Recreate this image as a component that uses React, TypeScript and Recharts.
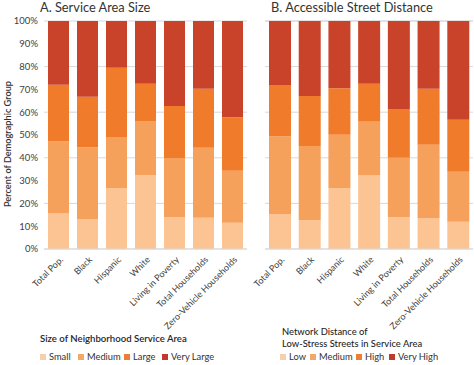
import React from 'react';
import { BarChart, Bar, XAxis, YAxis, CartesianGrid } from 'recharts';

const categories = ['Total Pop.', 'Black', 'Hispanic', 'White', 'Living in Poverty', 'Total Households', 'Zero-Vehicle Households'];

// A. Service Area Size (percent of each group)
const sizeSmall = [15.6, 13.2, 26.8, 32.3, 13.9, 13.7, 11.5];
const sizeMedium = [31.6, 31.4, 22.3, 23.7, 26.0, 30.7, 22.8];
const sizeLarge = [24.8, 22.2, 30.4, 16.5, 22.8, 25.9, 23.5];
const sizeVeryLarge = [28.0, 33.2, 20.5, 27.5, 37.3, 29.7, 42.2];

// B. Accessible Street Distance
const distLow = [15.4, 12.7, 26.8, 32.2, 13.9, 13.5, 12.0];
const distMedium = [33.9, 32.5, 23.3, 23.9, 26.1, 32.2, 21.9];
const distHigh = [22.6, 21.9, 20.4, 16.4, 21.4, 24.6, 22.8];
const distVeryHigh = [28.1, 32.9, 29.5, 27.5, 38.6, 29.7, 43.3];

const yTicks = [0, 10, 20, 30, 40, 50, 60, 70, 80, 90, 100];

const sizeLabels = ['Small', 'Medium', 'Large', 'Very Large'];
const distLabels = ['Low', 'Medium', 'High', 'Very High'];
const colors = ['#FDC493', '#F6A15B', '#F07C2B', '#C9432A'];
const legendColors = ['#F6CFAE', '#F2A867', '#EE7E35', '#C0392B'];

const FONT = 'Lato, "Open Sans", sans-serif';

const sizeData = categories.map((name, i) => ({
  name,
  s0: sizeSmall[i],
  s1: sizeMedium[i],
  s2: sizeLarge[i],
  s3: sizeVeryLarge[i],
}));

const distData = categories.map((name, i) => ({
  name,
  s0: distLow[i],
  s1: distMedium[i],
  s2: distHigh[i],
  s3: distVeryHigh[i],
}));

const RotTick = (props: any) => {
  const { x, y, payload } = props;
  return (
    <g transform={`translate(${x + 3},${y + 7})`}>
      <text transform="rotate(-45)" textAnchor="end" dy="0.35em" fontSize={9} fill="#404040" fontFamily={FONT}>
        {payload.value}
      </text>
    </g>
  );
};

const Panel = ({ data, showY, width, marginLeft, barSize }: any) => (
  <BarChart
    width={width}
    height={345}
    data={data}
    margin={{ top: 21, right: 1, left: marginLeft, bottom: 25 }}
    barSize={barSize}
  >
    <CartesianGrid vertical={false} stroke="#d9d9d9" strokeWidth={1} />
    <XAxis
      dataKey="name"
      interval={0}
      height={71}
      tickLine={false}
      tickSize={0}
      axisLine={{ stroke: '#d9d9d9' }}
      tick={<RotTick />}
    />
    <YAxis
      hide={!showY}
      width={44}
      domain={[0, 100]}
      ticks={yTicks}
      tickFormatter={(v: number) => `${v}%`}
      axisLine={false}
      tickLine={false}
      tickSize={4}
      tickMargin={2}
      tick={{ fontSize: 9.5, fill: '#404040', fontFamily: FONT }}
    />
    {colors.map((c, k) => (
      <Bar key={k} dataKey={`s${k}`} stackId="a" fill={c} isAnimationActive={false} />
    ))}
  </BarChart>
);

const LegendRow = ({ labels, xs }: { labels: string[]; xs: number[] }) => (
  <>
    {labels.map((l, i) => (
      <div
        key={l}
        style={{
          position: 'absolute',
          left: xs[i],
          top: 351,
          display: 'flex',
          alignItems: 'center',
          fontSize: 9.3,
          color: '#333',
          whiteSpace: 'nowrap',
        }}
      >
        <span style={{ display: 'inline-block', width: 6, height: 6, background: legendColors[i], marginRight: 3 }} />
        {l}
      </div>
    ))}
  </>
);

export default function App() {
  return (
    <div style={{ position: 'absolute', left: 0, top: 0, width: 474, height: 365, background: '#fff', overflow: 'hidden', fontFamily: FONT }}>
      <div style={{ position: 'absolute', left: 0, top: 0 }}>
        <Panel data={sizeData} showY width={248} marginLeft={0} barSize={21} />
      </div>
      <div style={{ position: 'absolute', left: 237, top: 0 }}>
        <Panel data={distData} showY={false} width={237} marginLeft={28} barSize={22} />
      </div>
      <div style={{ position: 'absolute', left: 40, top: -1, fontSize: 12.8, color: '#333', lineHeight: '16px' }}>A. Service Area Size</div>
      <div style={{ position: 'absolute', left: 271, top: -1, fontSize: 12.8, color: '#333', lineHeight: '16px' }}>B. Accessible Street Distance</div>
      <div
        style={{
          position: 'absolute',
          left: 7,
          top: 144,
          transform: 'translate(-50%, -50%) rotate(-90deg)',
          whiteSpace: 'nowrap',
          fontSize: 9.2,
          fontWeight: 600,
          color: '#333',
        }}
      >
        Percent of Demographic Group
      </div>
      <div style={{ position: 'absolute', left: 40, top: 333, fontSize: 9.6, fontWeight: 600, color: '#262626' }}>
        Size of Neighborhood Service Area
      </div>
      <LegendRow labels={sizeLabels} xs={[40, 78, 124, 162]} />
      <div style={{ position: 'absolute', left: 282, top: 326, fontSize: 9.4, color: '#1f1f1f', lineHeight: '12px', fontWeight: 500 }}>
        Network Distance of
        <br />
        Low-Stress Streets in Service Area
      </div>
      <LegendRow labels={distLabels} xs={[280, 310, 356, 389]} />
    </div>
  );
}
